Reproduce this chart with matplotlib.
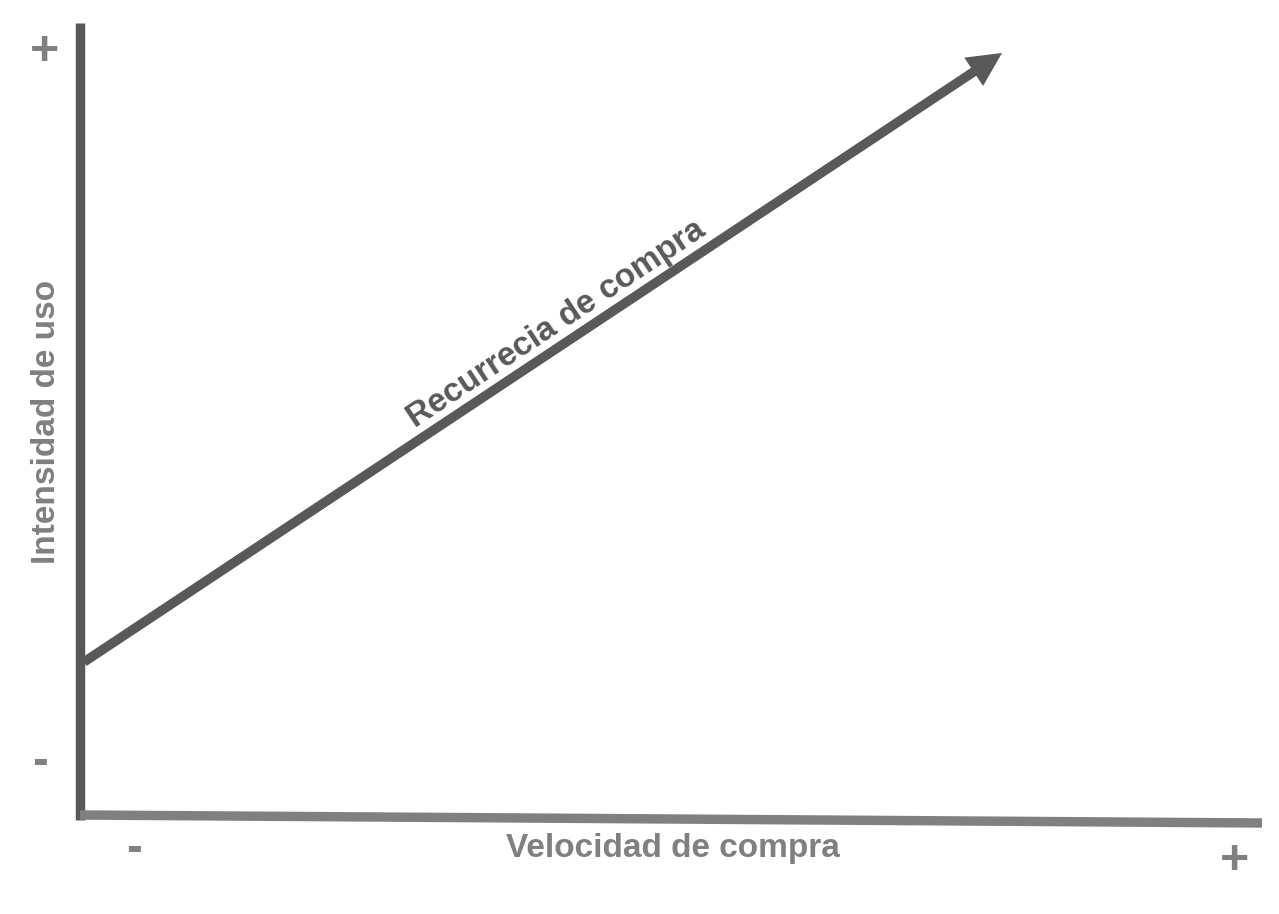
import matplotlib.pyplot as plt
from matplotlib.patches import FancyArrow

# labels
x_label = 'Velocidad de compra'
y_label = 'Intensidad de uso'
arrow_label = 'Recurrecia de compra'
low_high = ['-', '+']

# diagram geometry in pixel units
W, H = 1279, 914
y_axis = [(80, 23), (80, 820)]
x_axis = [(80, 815), (1262, 823)]
arrow_start = (84, 662)
arrow_end = (1002, 53)

dark = '#595959'
grey = '#808080'
font = 'Liberation Sans'

fig = plt.figure(figsize=(W / 100, H / 100), dpi=100)
ax = fig.add_axes([0, 0, 1, 1])
ax.set_xlim(0, W)
ax.set_ylim(H, 0)
ax.axis('off')

ax.plot([y_axis[0][0], y_axis[1][0]], [y_axis[0][1], y_axis[1][1]],
        color=dark, lw=6.8, solid_capstyle='butt')
ax.plot([x_axis[0][0], x_axis[1][0]], [x_axis[0][1], x_axis[1][1]],
        color=grey, lw=6.8, solid_capstyle='butt')

dx = arrow_end[0] - arrow_start[0]
dy = arrow_end[1] - arrow_start[1]
ax.add_patch(FancyArrow(arrow_start[0], arrow_start[1], dx, dy,
                        width=9.5, head_width=34, head_length=34,
                        length_includes_head=True, color=dark, lw=0))

ax.text(673, 848, x_label, fontsize=24, fontweight='bold', color=grey,
        family=font, ha='center', va='center')
ax.text(47, 422, y_label, fontsize=24, fontweight='bold', color=grey,
        family=font, ha='center', va='center', rotation=90)
ax.text(556, 324, arrow_label, fontsize=24, fontweight='bold', color=dark,
        family=font, ha='center', va='center', rotation=33.6,
        rotation_mode='anchor')

# +/- markers
ax.text(45, 52, low_high[1], fontsize=36, fontweight='bold', color=grey,
        family=font, ha='center', va='center')
ax.text(40, 762, low_high[0], fontsize=34, fontweight='bold', color=grey,
        family=font, ha='center', va='center')
ax.text(134, 849, low_high[0], fontsize=34, fontweight='bold', color=grey,
        family=font, ha='center', va='center')
ax.text(1234, 861, low_high[1], fontsize=36, fontweight='bold', color=grey,
        family=font, ha='center', va='center')

fig.savefig('out.png', dpi=100)
